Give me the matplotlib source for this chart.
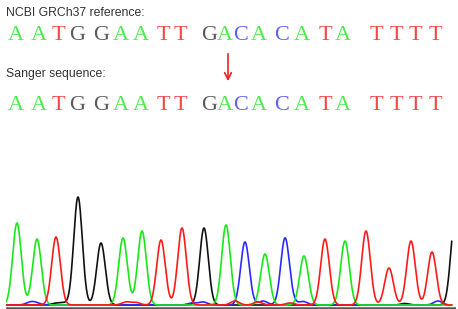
import numpy as np
import matplotlib
matplotlib.use("Agg")
from matplotlib import pyplot as plt

# sequence shown above the trace
secuencia = list("AATGGAATTGACACATATTTT")
pos_letras = [16, 39, 58, 77, 101, 121, 141, 163, 180, 209, 225, 241,
              259, 282, 302, 325, 343, 376, 396, 415, 435]

# main peaks of the chromatogram: base called, scan position, height
bases_pico = list("AATGGAATTGACACATATTTTG")
pos_pico = [17, 37, 56, 78, 101, 123, 142, 161, 182, 204, 226, 245,
            265, 285, 304, 325, 345, 366, 389, 411, 432, 455]
alt_pico = [82, 66, 68, 108, 62, 67, 74, 65, 77, 77, 80, 63,
            51, 66, 49, 66, 64, 74, 37, 64, 53, 85]

# small background bumps near the baseline
bases_ruido = list("CCGGTTCCTCTCTCCG")
pos_ruido = [30, 36, 55, 63, 126, 136, 192, 203, 235, 263, 258, 291, 290, 303, 438, 405]
alt_ruido = [2.5, 2, 1.5, 2, 3, 2.5, 2, 3, 4, 4, 3, 3, 2, 3.5, 4, 1.5]

COLORES_TRAZA = {"A": "#18e818", "T": "#ff1a1a", "G": "#111111", "C": "#2a2aff"}
COLORES_TEXTO = {"A": "#4cec4c", "T": "#f44848", "G": "#5a5a5a", "C": "#6060f4"}
SIGMA = 4.3


def traza(base, x):
    y = np.zeros_like(x)
    for b, p, h in zip(bases_pico + bases_ruido, pos_pico + pos_ruido, alt_pico + alt_ruido):
        if b == base:
            y += h * np.exp(-0.5 * ((x - p) / SIGMA) ** 2)
    return y


fig = plt.figure(figsize=(4.58, 3.09), dpi=100)

# chromatogram (axes in pixel units)
W, H = 458, 309
ax = fig.add_axes([6 / W, 0, (456 - 6) / W, 129 / H])
x = np.arange(6, 452, 0.25)
for base in ["G", "C", "A", "T"]:
    ax.plot(x, traza(base, x), color=COLORES_TRAZA[base], lw=1.2, solid_capstyle="round")
ax.axhline(-2.5, color="#555555", lw=1.8)
ax.set_xlim(6, 456)
ax.set_ylim(-4, 125)
ax.axis("off")

# text overlay
at = fig.add_axes([0, 0, 1, 1])
at.set_xlim(0, W)
at.set_ylim(H, 0)
at.axis("off")
at.patch.set_alpha(0)

at.text(6, 13, "NCBI GRCh37 reference:", fontsize=8.8, family="Liberation Sans",
        color="#333333", va="center", ha="left")
at.text(6, 74, "Sanger sequence:", fontsize=8.8, family="Liberation Sans",
        color="#333333", va="center", ha="left")

for fila_y in [35, 106]:
    for letra, px in zip(secuencia, pos_letras):
        at.text(px, fila_y, letra, fontsize=16, family="Liberation Serif",
                color=COLORES_TEXTO[letra], ha="center", va="center")

at.annotate("", xy=(228, 84), xytext=(228, 51),
            arrowprops=dict(arrowstyle="->", color="#ee2222", lw=1.2, mutation_scale=12))

plt.savefig("out.png", dpi=100)
